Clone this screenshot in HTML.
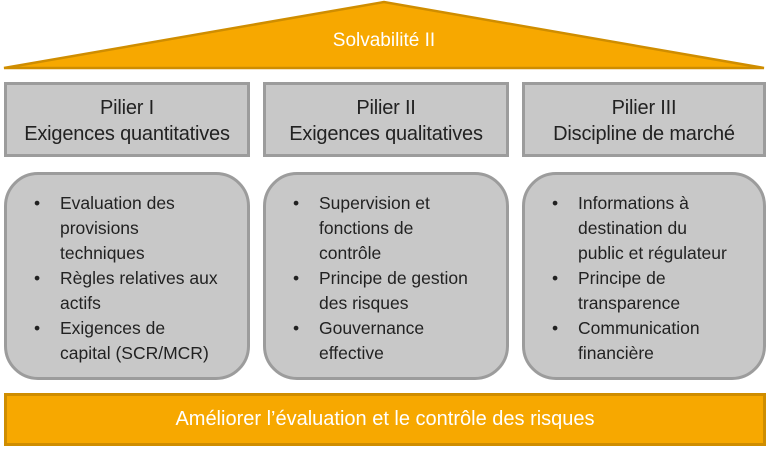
<!DOCTYPE html>
<html><head><style>
body{margin:0;width:768px;height:449px;background:#fff;position:relative;overflow:hidden;font-family:"Liberation Sans",sans-serif;}
.h{position:absolute;top:82px;height:75px;background:#c8c8c8;border:3px solid #9c9c9c;box-sizing:border-box;text-align:center;font-size:20px;line-height:26px;color:#222;padding-top:10px;letter-spacing:-0.2px;white-space:nowrap}
.c{position:absolute;top:172px;height:208px;background:#c8c8c8;border:3px solid #9c9c9c;box-sizing:border-box;border-radius:34px;font-size:17.5px;line-height:25px;color:#222;padding-top:16px;white-space:nowrap}
.c ul{margin:0;padding:0 0 0 53px;list-style:none}
.c li{position:relative}
.c li:before{content:"•";position:absolute;left:-26px}
.bar{position:absolute;left:4px;top:393px;width:762px;height:53px;background:#f7a800;border:3px solid #cf8d00;box-sizing:border-box;color:#fff;font-size:20px;text-align:center;line-height:47px}
</style></head><body>
<svg style="position:absolute;left:0;top:0" width="768" height="75"><polygon points="4,68 384,2 764,68" fill="#f7a800" stroke="#cf8d00" stroke-width="2.5"/>
<text x="384" y="46" text-anchor="middle" font-family="Liberation Sans" font-size="19" fill="#fff">Solvabilité II</text></svg>
<div class="h" style="left:4px;width:246px">Pilier I<br>Exigences quantitatives</div>
<div class="h" style="left:263px;width:246px">Pilier II<br>Exigences qualitatives</div>
<div class="h" style="left:522px;width:244px">Pilier III<br>Discipline de marché</div>
<div class="c" style="left:4px;width:246px"><ul><li>Evaluation des<br>provisions<br>techniques</li><li>Règles relatives aux<br>actifs</li><li>Exigences de<br>capital (SCR/MCR)</li></ul></div>
<div class="c" style="left:263px;width:246px"><ul><li>Supervision et<br>fonctions de<br>contrôle</li><li>Principe de gestion<br>des risques</li><li>Gouvernance<br>effective</li></ul></div>
<div class="c" style="left:522px;width:244px"><ul><li>Informations à<br>destination du<br>public et régulateur</li><li>Principe de<br>transparence</li><li>Communication<br>financière</li></ul></div>
<div class="bar">Améliorer l’évaluation et le contrôle des risques</div>
</body></html>
